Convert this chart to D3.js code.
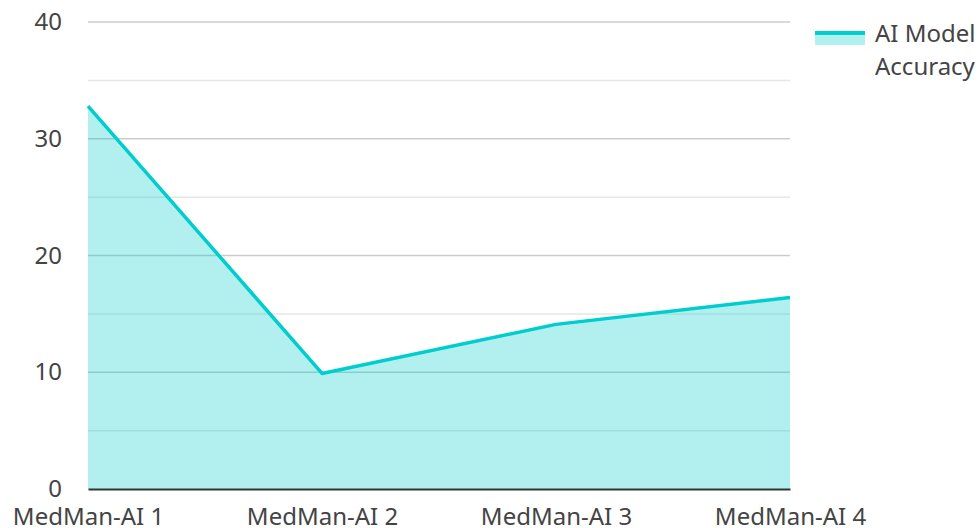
<!DOCTYPE html>
<html>
<head>
<meta charset="utf-8">
<script src="https://cdn.jsdelivr.net/npm/d3@7"></script>
<style>
  body { margin: 0; background: #fff; }
  text { font-family: "Noto Sans", sans-serif; fill: #444; }
</style>
</head>
<body>
<div id="chart"></div>
<script>
// chart data
var models = ["MedMan-AI 1", "MedMan-AI 2", "MedMan-AI 3", "MedMan-AI 4"];
var accuracy = [32.8, 9.9, 14.1, 16.4];
var yTicks = [0, 10, 20, 30, 40];
var seriesName = ["AI Model", "Accuracy"];

var svgWidth = 980;
var svgHeight = 528;

var margin = { top: 22, right: 190, bottom: 39, left: 88 };
var width = svgWidth - margin.left - margin.right;
var height = svgHeight - margin.top - margin.bottom;

var lineColor = "#00cdcd";
var fillColor = "rgba(0, 205, 205, 0.3)";
var fontSize = "24px";

var svg = d3.select("#chart")
  .append("svg")
  .attr("width", svgWidth)
  .attr("height", svgHeight);

var chartGroup = svg.append("g")
  .attr("transform", `translate(${margin.left}, ${margin.top})`);

var xScale = d3.scalePoint()
  .domain(models)
  .range([0, width]);

var yScale = d3.scaleLinear()
  .domain([0, 40])
  .range([height, 0]);

// minor + major gridlines
chartGroup.append("g")
  .selectAll("line")
  .data(d3.range(5, 40, 10))
  .enter()
  .append("line")
  .attr("x1", 0)
  .attr("x2", width)
  .attr("y1", d => yScale(d))
  .attr("y2", d => yScale(d))
  .attr("stroke", "#e6e6e6")
  .attr("stroke-width", 1.5);

chartGroup.append("g")
  .selectAll("line")
  .data(yTicks.slice(1))
  .enter()
  .append("line")
  .attr("x1", 0)
  .attr("x2", width)
  .attr("y1", d => yScale(d))
  .attr("y2", d => yScale(d))
  .attr("stroke", "#cccccc")
  .attr("stroke-width", 1.5);

// area + line
var area = d3.area()
  .x((d, i) => xScale(models[i]))
  .y0(height)
  .y1(d => yScale(d));

var line = d3.line()
  .x((d, i) => xScale(models[i]))
  .y(d => yScale(d));

chartGroup.append("path")
  .datum(accuracy)
  .attr("d", area)
  .attr("fill", fillColor);

chartGroup.append("path")
  .datum(accuracy)
  .attr("d", line)
  .attr("fill", "none")
  .attr("stroke", lineColor)
  .attr("stroke-width", 3.5)
  .attr("stroke-linejoin", "round");

// axes
var yAxis = d3.axisLeft(yScale).tickValues(yTicks).tickSize(0).tickPadding(26);
chartGroup.append("g")
  .call(yAxis)
  .call(g => g.select(".domain").remove())
  .selectAll("text")
  .attr("font-size", fontSize)
  .attr("font-family", "Noto Sans, sans-serif")
  .style("fill", "#444");

var xAxis = d3.axisBottom(xScale).tickSize(0).tickPadding(19);
chartGroup.append("g")
  .attr("transform", `translate(0, ${height})`)
  .call(xAxis)
  .call(g => g.select(".domain").attr("stroke", "#333").attr("stroke-width", 2))
  .selectAll("text")
  .attr("font-size", fontSize)
  .attr("font-family", "Noto Sans, sans-serif")
  .style("fill", "#444");

// legend
var legend = svg.append("g")
  .attr("transform", "translate(815, 31)");

legend.append("rect")
  .attr("width", 50)
  .attr("height", 14)
  .attr("fill", fillColor);

legend.append("line")
  .attr("x1", 0)
  .attr("x2", 50)
  .attr("y1", 2)
  .attr("y2", 2)
  .attr("stroke", lineColor)
  .attr("stroke-width", 4);

legend.selectAll("text.lbl")
  .data(seriesName)
  .enter()
  .append("text")
  .attr("class", "lbl")
  .attr("x", 60)
  .attr("y", (d, i) => 11 + i * 33)
  .attr("font-size", fontSize)
  .text(d => d);
</script>
</body>
</html>
